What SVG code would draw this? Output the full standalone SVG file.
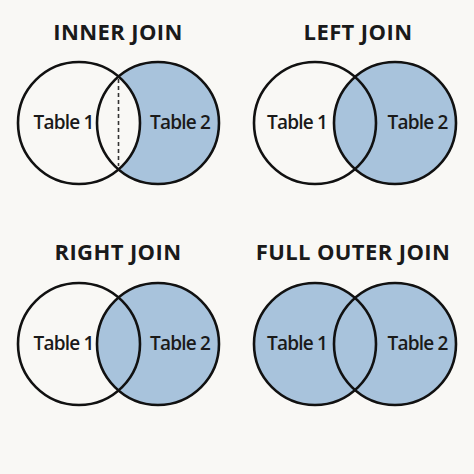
<svg xmlns="http://www.w3.org/2000/svg" width="474" height="474" viewBox="0 0 474 474">
<style>
.bg{fill:#f9f8f5}
.fill{fill:#a8c3dc}
.bgfill{fill:#f9f8f5}
.ring{fill:none;stroke:#111;stroke-width:2.6}
.title{font-family:"Open Sans","Liberation Sans",sans-serif;font-weight:700;font-size:22px;fill:#1a1a1a;text-anchor:middle;letter-spacing:0.4px}
.label{font-family:"Open Sans","Liberation Sans",sans-serif;font-weight:600;font-size:19px;fill:#1a1a1a;text-anchor:middle;letter-spacing:-0.8px}
.dash{stroke:#333;stroke-width:1.6;stroke-dasharray:4 3}
</style>
<rect class="bg" x="0" y="0" width="474" height="474"/>

<g id="inner-join">
  <circle class="fill" cx="158" cy="123" r="61"/>
  <path class="bgfill" d="M118.5,76.5 A61,61 0 0,1 118.5,169.5 A61,61 0 0,1 118.5,76.5 Z"/>
  <line class="dash" x1="118.5" y1="79" x2="118.5" y2="166"/>
  <circle class="ring" cx="79" cy="123" r="61"/>
  <circle class="ring" cx="158" cy="123" r="61"/>
  <text class="title" x="118" y="40">INNER JOIN</text>
  <text class="label" x="63.5" y="129">Table 1</text>
  <text class="label" x="180" y="129">Table 2</text>
</g>

<g id="left-join">
  <circle class="fill" cx="395" cy="123" r="61"/>
  <circle class="ring" cx="315" cy="123" r="61"/>
  <circle class="ring" cx="395" cy="123" r="61"/>
  <text class="title" x="358" y="40">LEFT JOIN</text>
  <text class="label" x="297" y="129">Table 1</text>
  <text class="label" x="417.5" y="129">Table 2</text>
</g>

<g id="right-join">
  <circle class="fill" cx="158" cy="344" r="61"/>
  <circle class="ring" cx="79" cy="344" r="61"/>
  <circle class="ring" cx="158" cy="344" r="61"/>
  <text class="title" x="118" y="260">RIGHT JOIN</text>
  <text class="label" x="63.5" y="350">Table 1</text>
  <text class="label" x="180" y="350">Table 2</text>
</g>

<g id="full-outer-join">
  <circle class="fill" cx="315" cy="344" r="61"/>
  <circle class="fill" cx="395" cy="344" r="61"/>
  <circle class="ring" cx="315" cy="344" r="61"/>
  <circle class="ring" cx="395" cy="344" r="61"/>
  <text class="title" x="353" y="260">FULL OUTER JOIN</text>
  <text class="label" x="297" y="350">Table 1</text>
  <text class="label" x="417.5" y="350">Table 2</text>
</g>
</svg>
